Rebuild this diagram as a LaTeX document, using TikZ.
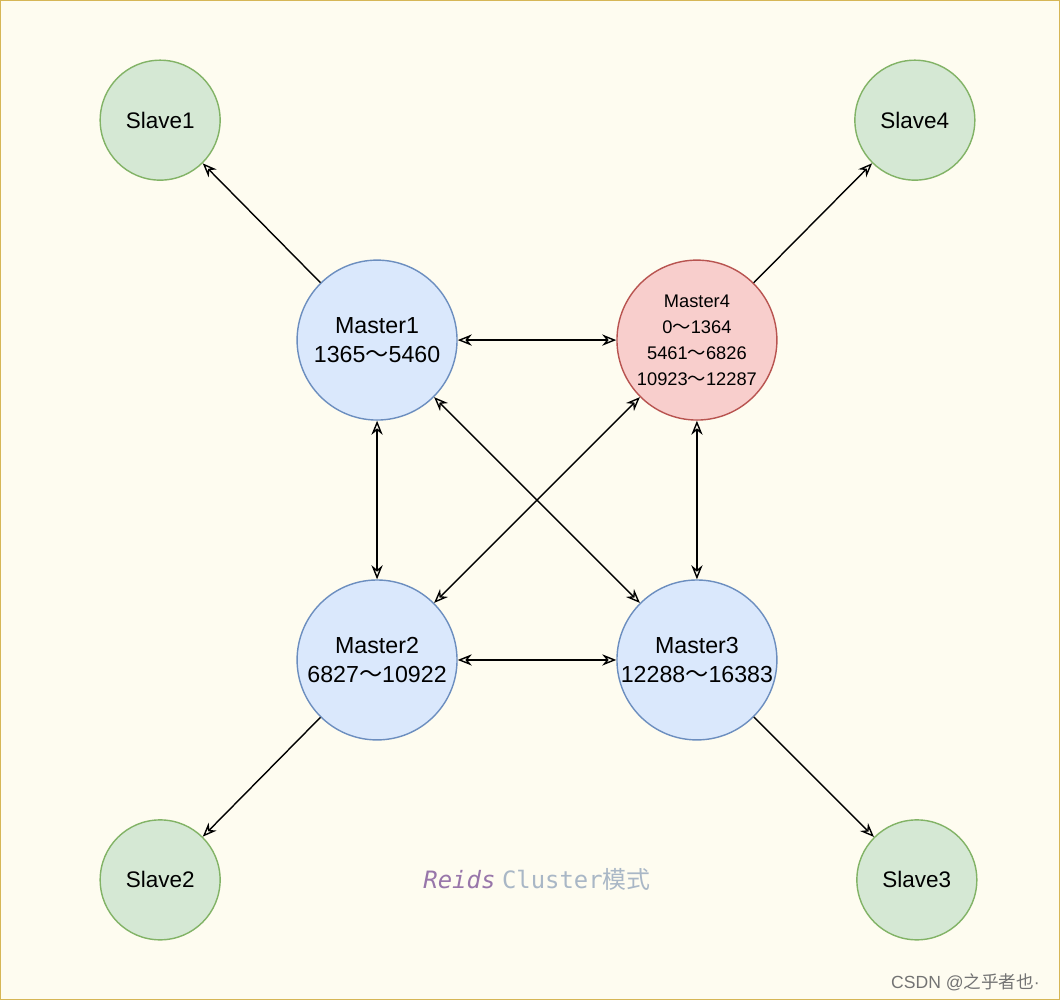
\documentclass[tikz,border=0pt]{standalone}
\usepackage{fontspec}
\setmainfont{Liberation Sans}
\newfontfamily\cjk{Noto Sans CJK SC}
\newfontfamily\mono{DejaVu Sans Mono}
\usetikzlibrary{arrows.meta}
\newcommand{\tld}{{\cjk ～}}
\definecolor{mfill}{HTML}{DAE8FC}\definecolor{mdraw}{HTML}{6C8EBF}
\definecolor{sfill}{HTML}{D5E8D4}\definecolor{sdraw}{HTML}{82B366}
\definecolor{rfill}{HTML}{F8CECC}\definecolor{rdraw}{HTML}{B85450}
\definecolor{tpurple}{HTML}{9876AA}\definecolor{tgray}{HTML}{A9B7C6}
\definecolor{bg}{HTML}{FEFCF0}\definecolor{bd}{HTML}{D6B656}
\begin{document}
\begin{tikzpicture}[x=0.025cm,y=-0.025cm,
  slave/.style={circle,draw=sdraw,fill=sfill,line width=1pt,minimum size=120*0.025cm,inner sep=0pt,font=\fontsize{16}{19}\selectfont},
  master/.style={circle,draw=mdraw,fill=mfill,line width=1pt,minimum size=160*0.025cm,inner sep=0pt,align=center,font=\fontsize{16.5}{21}\selectfont},
  red/.style={circle,draw=rdraw,fill=rfill,line width=1pt,minimum size=160*0.025cm,inner sep=0pt,align=center,font=\fontsize{13}{18.5}\selectfont},
  one/.style={-{Stealth[open,length=10pt,width=8pt]},line width=1pt},
  two/.style={{Stealth[open,length=10pt,width=8pt]}-{Stealth[open,length=10pt,width=8pt]},line width=1pt}]
\fill[bg] (0,0) rectangle (1060,1000);
\draw[bd,line width=1pt] (0.5,0.5) rectangle (1059.5,999.5);
\node[slave] (s1) at (160,120) {Slave1};
\node[slave] (s4) at (915,120) {Slave4};
\node[slave] (s2) at (160,880) {Slave2};
\node[slave] (s3) at (917,880) {Slave3};
\node[master] (m1) at (377,340) {Master1\\1365\tld5460};
\node[red] (m4) at (697,340) {Master4\\0\tld1364\\5461\tld6826\\10923\tld12287};
\node[master] (m2) at (377,660) {Master2\\6827\tld10922};
\node[master] (m3) at (697,660) {Master3\\12288\tld16383};
\draw[one] (m1) -- (s1);
\draw[one] (m4) -- (s4);
\draw[one] (m2) -- (s2);
\draw[one] (m3) -- (s3);
\draw[two] (m1) -- (m4);
\draw[two] (m1) -- (m2);
\draw[two] (m1) -- (m3);
\draw[two] (m4) -- (m2);
\draw[two] (m4) -- (m3);
\draw[two] (m2) -- (m3);
\node[font=\fontsize{17}{20}\selectfont] (t) at (537,880) {{\mono\itshape\color{tpurple}Reids} {\mono\color{tgray}Cluster}{\cjk\color{tgray}模式}};
\node[anchor=east,font=\fontsize{12.5}{14}\selectfont,text=gray!90!black] (w) at (1045,982) {CSDN @{\cjk 之乎者也}·};
\end{tikzpicture}
\end{document}
